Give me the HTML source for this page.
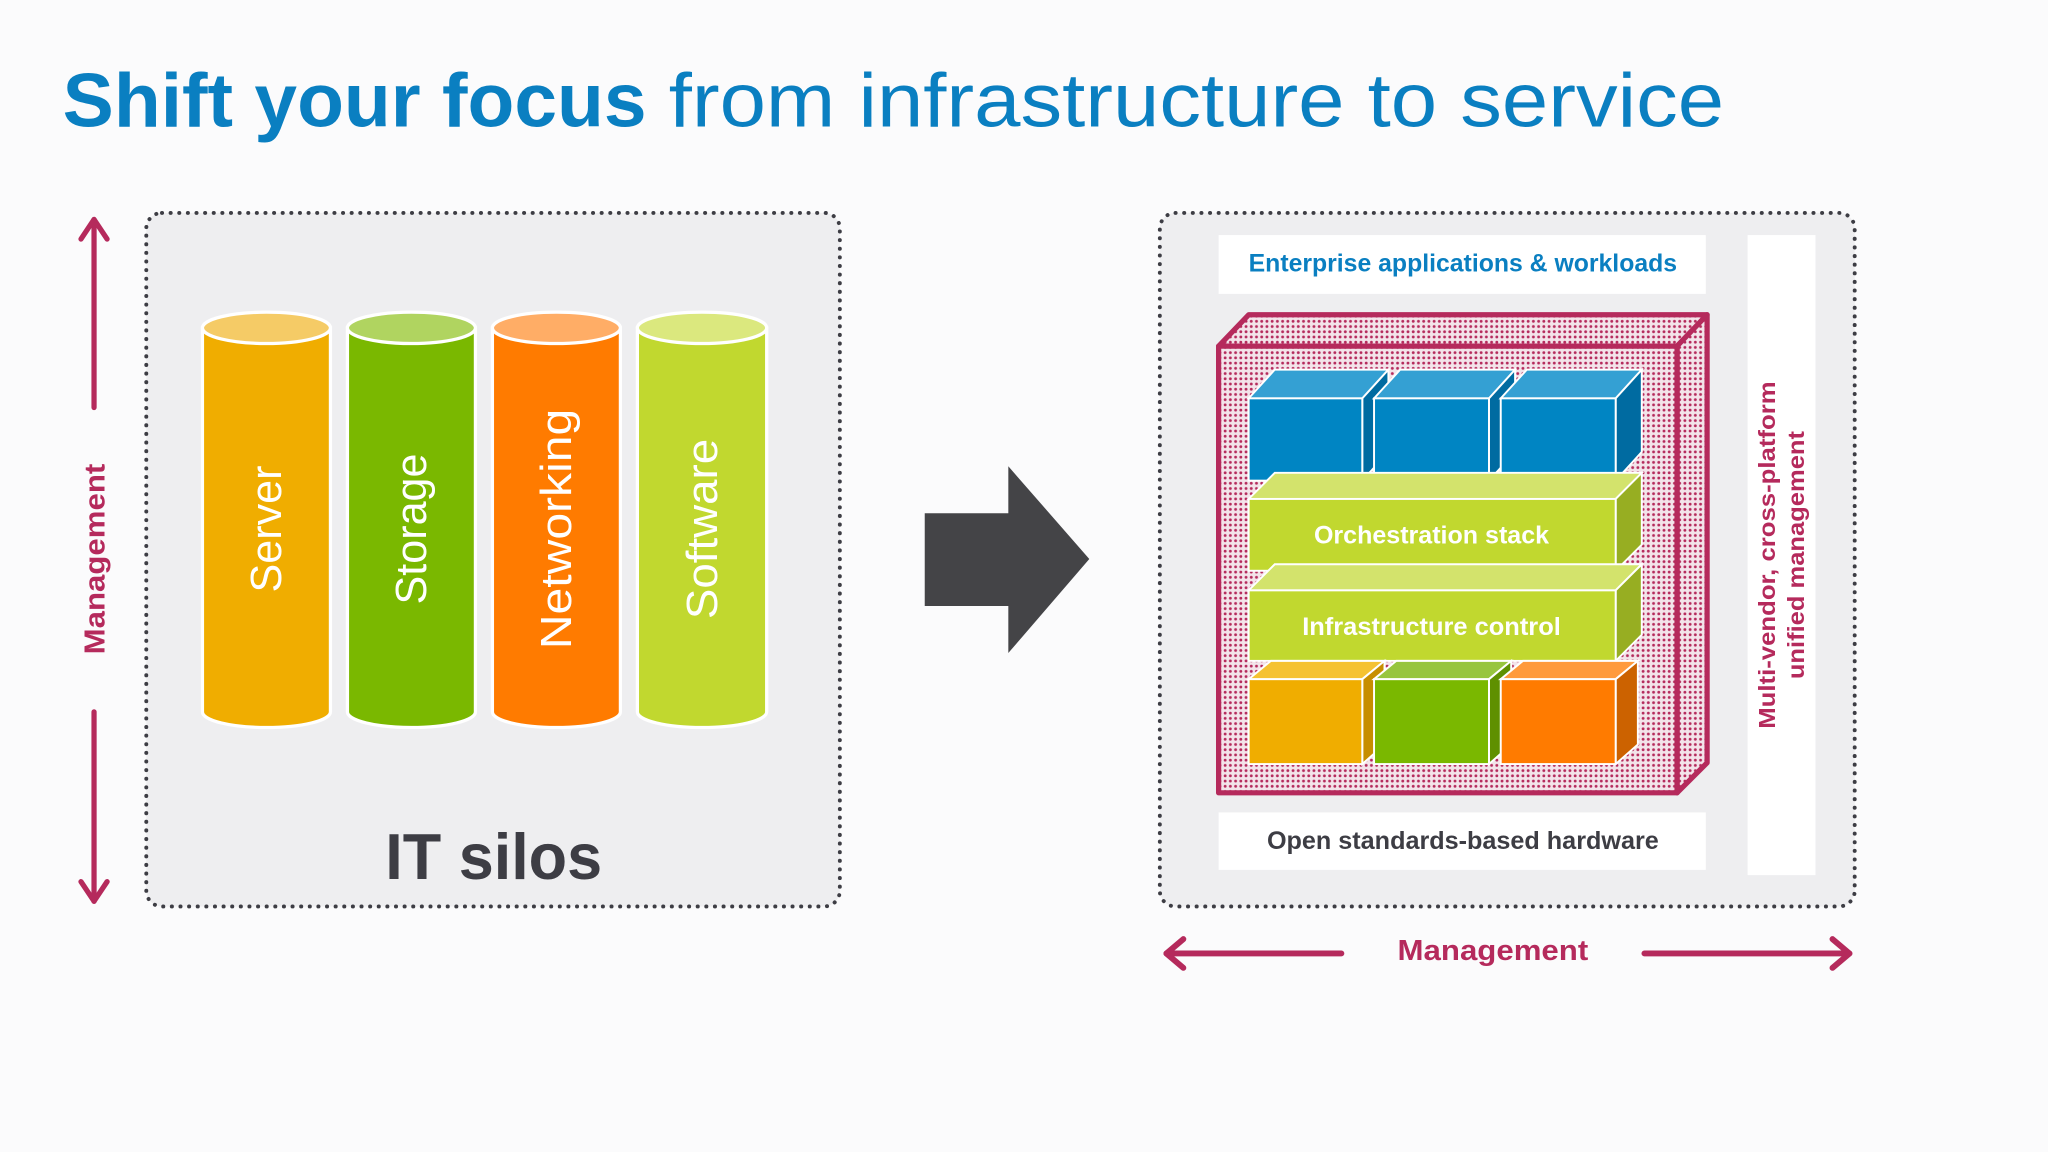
<!DOCTYPE html>
<html><head><meta charset="utf-8"><style>
html,body{margin:0;padding:0;background:#fbfbfc;}
svg{display:block;}
text{font-family:"Liberation Sans",sans-serif;}
</style></head><body>
<svg width="2048" height="1152" viewBox="0 0 1568 882" xmlns="http://www.w3.org/2000/svg">
<defs>
<pattern id="dots" width="4" height="4" patternUnits="userSpaceOnUse">
<rect width="4" height="4" fill="#f3e4ea"/>
<circle cx="2" cy="2" r="1.1" fill="#b52a5c"/>
</pattern>
</defs>
<rect width="1568" height="882" fill="#fbfbfc"/>
<text x="48" y="97" font-size="58" font-weight="bold" fill="#0a7fc1" textLength="447" lengthAdjust="spacingAndGlyphs">Shift your focus</text>
<text x="512" y="97" font-size="58" fill="#0a7fc1" textLength="808" lengthAdjust="spacingAndGlyphs">from infrastructure to service</text>

<rect x="112" y="163" width="531" height="531" rx="12" fill="#eeeef0" stroke="#3d3d44" stroke-width="3" stroke-dasharray="0.1 6.5" stroke-linecap="round"/>
<g stroke="#b52a5c" stroke-width="4" fill="none" stroke-linecap="round" stroke-linejoin="round">
<line x1="72" y1="168" x2="72" y2="312"/>
<polyline points="62,183 72,168 82,183"/>
<line x1="72" y1="545" x2="72" y2="690"/>
<polyline points="62,675 72,690 82,675"/>
</g>
<text transform="translate(80,428) rotate(-90)" text-anchor="middle" font-size="22" font-weight="bold" fill="#b52a5c" textLength="146" lengthAdjust="spacingAndGlyphs">Management</text>

<g stroke="#fff" stroke-width="2.5">
<path d="M155,251 V545 A49,12 0 0 0 253,545 V251 Z" fill="#f0ad00"/>
<ellipse cx="204" cy="251" rx="49" ry="12" fill="#f5cb66"/>
<path d="M266,251 V545 A49,12 0 0 0 364,545 V251 Z" fill="#7ab800"/>
<ellipse cx="315" cy="251" rx="49" ry="12" fill="#b0d460"/>
<path d="M377,251 V545 A49,12 0 0 0 475,545 V251 Z" fill="#ff7b00"/>
<ellipse cx="426" cy="251" rx="49" ry="12" fill="#ffad66"/>
<path d="M488,251 V545 A49.5,12 0 0 0 587,545 V251 Z" fill="#c1d82f"/>
<ellipse cx="537.5" cy="251" rx="49.5" ry="12" fill="#dbe87e"/>
</g>
<g fill="#fff" font-size="33" text-anchor="middle">
<text transform="translate(215,405) rotate(-90)">Server</text>
<text transform="translate(326,405) rotate(-90)">Storage</text>
<text transform="translate(437,405) rotate(-90)" textLength="184" lengthAdjust="spacingAndGlyphs">Networking</text>
<text transform="translate(549,405) rotate(-90)" textLength="138" lengthAdjust="spacingAndGlyphs">Software</text>
</g>
<text x="378" y="673" text-anchor="middle" font-size="50" font-weight="bold" fill="#3d3d44" textLength="166" lengthAdjust="spacingAndGlyphs">IT silos</text>

<polygon points="708,393 772,393 772,357 834,428 772,500 772,464 708,464" fill="#444447"/>

<rect x="888" y="163" width="532" height="531" rx="12" fill="#eeeef0" stroke="#3d3d44" stroke-width="3" stroke-dasharray="0.1 6.5" stroke-linecap="round"/>
<rect x="933" y="180" width="373" height="45" fill="#fff"/>
<text x="1120" y="208" text-anchor="middle" font-size="19" font-weight="bold" fill="#0a7fc1" textLength="328" lengthAdjust="spacingAndGlyphs">Enterprise applications &amp; workloads</text>
<rect x="1338" y="180" width="52" height="490" fill="#fff"/>
<text transform="translate(1359,425) rotate(-90)" text-anchor="middle" font-size="18" font-weight="bold" fill="#b52a5c" textLength="266" lengthAdjust="spacingAndGlyphs">Multi-vendor, cross-platform</text>
<text transform="translate(1381,425) rotate(-90)" text-anchor="middle" font-size="18" font-weight="bold" fill="#b52a5c" textLength="190" lengthAdjust="spacingAndGlyphs">unified management</text>
<rect x="933" y="622" width="373" height="44" fill="#fff"/>
<text x="1120" y="650" text-anchor="middle" font-size="19" font-weight="bold" fill="#3d3d44" textLength="300" lengthAdjust="spacingAndGlyphs">Open standards-based hardware</text>

<g stroke="#b52a5c" stroke-width="4" stroke-linejoin="round" fill="url(#dots)">
<polygon points="933,265 956,241 1307,241 1284,265"/>
<polygon points="1284,265 1307,241 1307,584 1284,607"/>
<rect x="933" y="265" width="351" height="342"/>
</g>

<g stroke="#fff" stroke-width="1.5">
<polygon points="956,305 976,283 1063,283 1043,305" fill="#34a0d3"/>
<polygon points="1043,305 1063,283 1063,346 1043,368" fill="#006ba1"/>
<rect x="956" y="305" width="87" height="63" fill="#0085c3"/>
<polygon points="1052,305 1072,283 1160,283 1140,305" fill="#34a0d3"/>
<polygon points="1140,305 1160,283 1160,346 1140,368" fill="#006ba1"/>
<rect x="1052" y="305" width="88" height="63" fill="#0085c3"/>
<polygon points="1149,305 1169,283 1257,283 1237,305" fill="#34a0d3"/>
<polygon points="1237,305 1257,283 1257,346 1237,368" fill="#006ba1"/>
<rect x="1149" y="305" width="88" height="63" fill="#0085c3"/>

<polygon points="956,382 976,362 1257,362 1237,382" fill="#d3e36c"/>
<polygon points="1237,382 1257,362 1257,417 1237,437" fill="#97ae22"/>
<rect x="956" y="382" width="281" height="55" fill="#c1d82f"/>

<polygon points="956,452 976,432 1257,432 1237,452" fill="#d3e36c"/>
<polygon points="1237,452 1257,432 1257,486 1237,506" fill="#97ae22"/>
<rect x="956" y="452" width="281" height="54" fill="#c1d82f"/>

<polygon points="956,520 973,506 1060,506 1043,520" fill="#f5c232"/>
<polygon points="1043,520 1060,506 1060,570 1043,585" fill="#c78e00"/>
<rect x="956" y="520" width="87" height="65" fill="#f0ad00"/>
<polygon points="1052,520 1069,506 1157,506 1140,520" fill="#97c53f"/>
<polygon points="1140,520 1157,506 1157,570 1140,585" fill="#5f9000"/>
<rect x="1052" y="520" width="88" height="65" fill="#7ab800"/>
<polygon points="1149,520 1166,506 1254,506 1237,520" fill="#ff9a3c"/>
<polygon points="1237,520 1254,506 1254,570 1237,585" fill="#cc6200"/>
<rect x="1149" y="520" width="88" height="65" fill="#ff7b00"/>
</g>
<text x="1096" y="416" text-anchor="middle" font-size="19" font-weight="bold" fill="#fff" textLength="180" lengthAdjust="spacingAndGlyphs">Orchestration stack</text>
<text x="1096" y="486" text-anchor="middle" font-size="19" font-weight="bold" fill="#fff" textLength="198" lengthAdjust="spacingAndGlyphs">Infrastructure control</text>

<g stroke="#b52a5c" stroke-width="4.5" fill="none" stroke-linecap="round" stroke-linejoin="round">
<line x1="893" y1="730" x2="1027" y2="730"/>
<polyline points="906,719 893,730 906,741"/>
<line x1="1259" y1="730" x2="1416" y2="730"/>
<polyline points="1403,719 1416,730 1403,741"/>
</g>
<text x="1143" y="735" text-anchor="middle" font-size="22" font-weight="bold" fill="#b52a5c" textLength="146" lengthAdjust="spacingAndGlyphs">Management</text>
</svg>
</body></html>
